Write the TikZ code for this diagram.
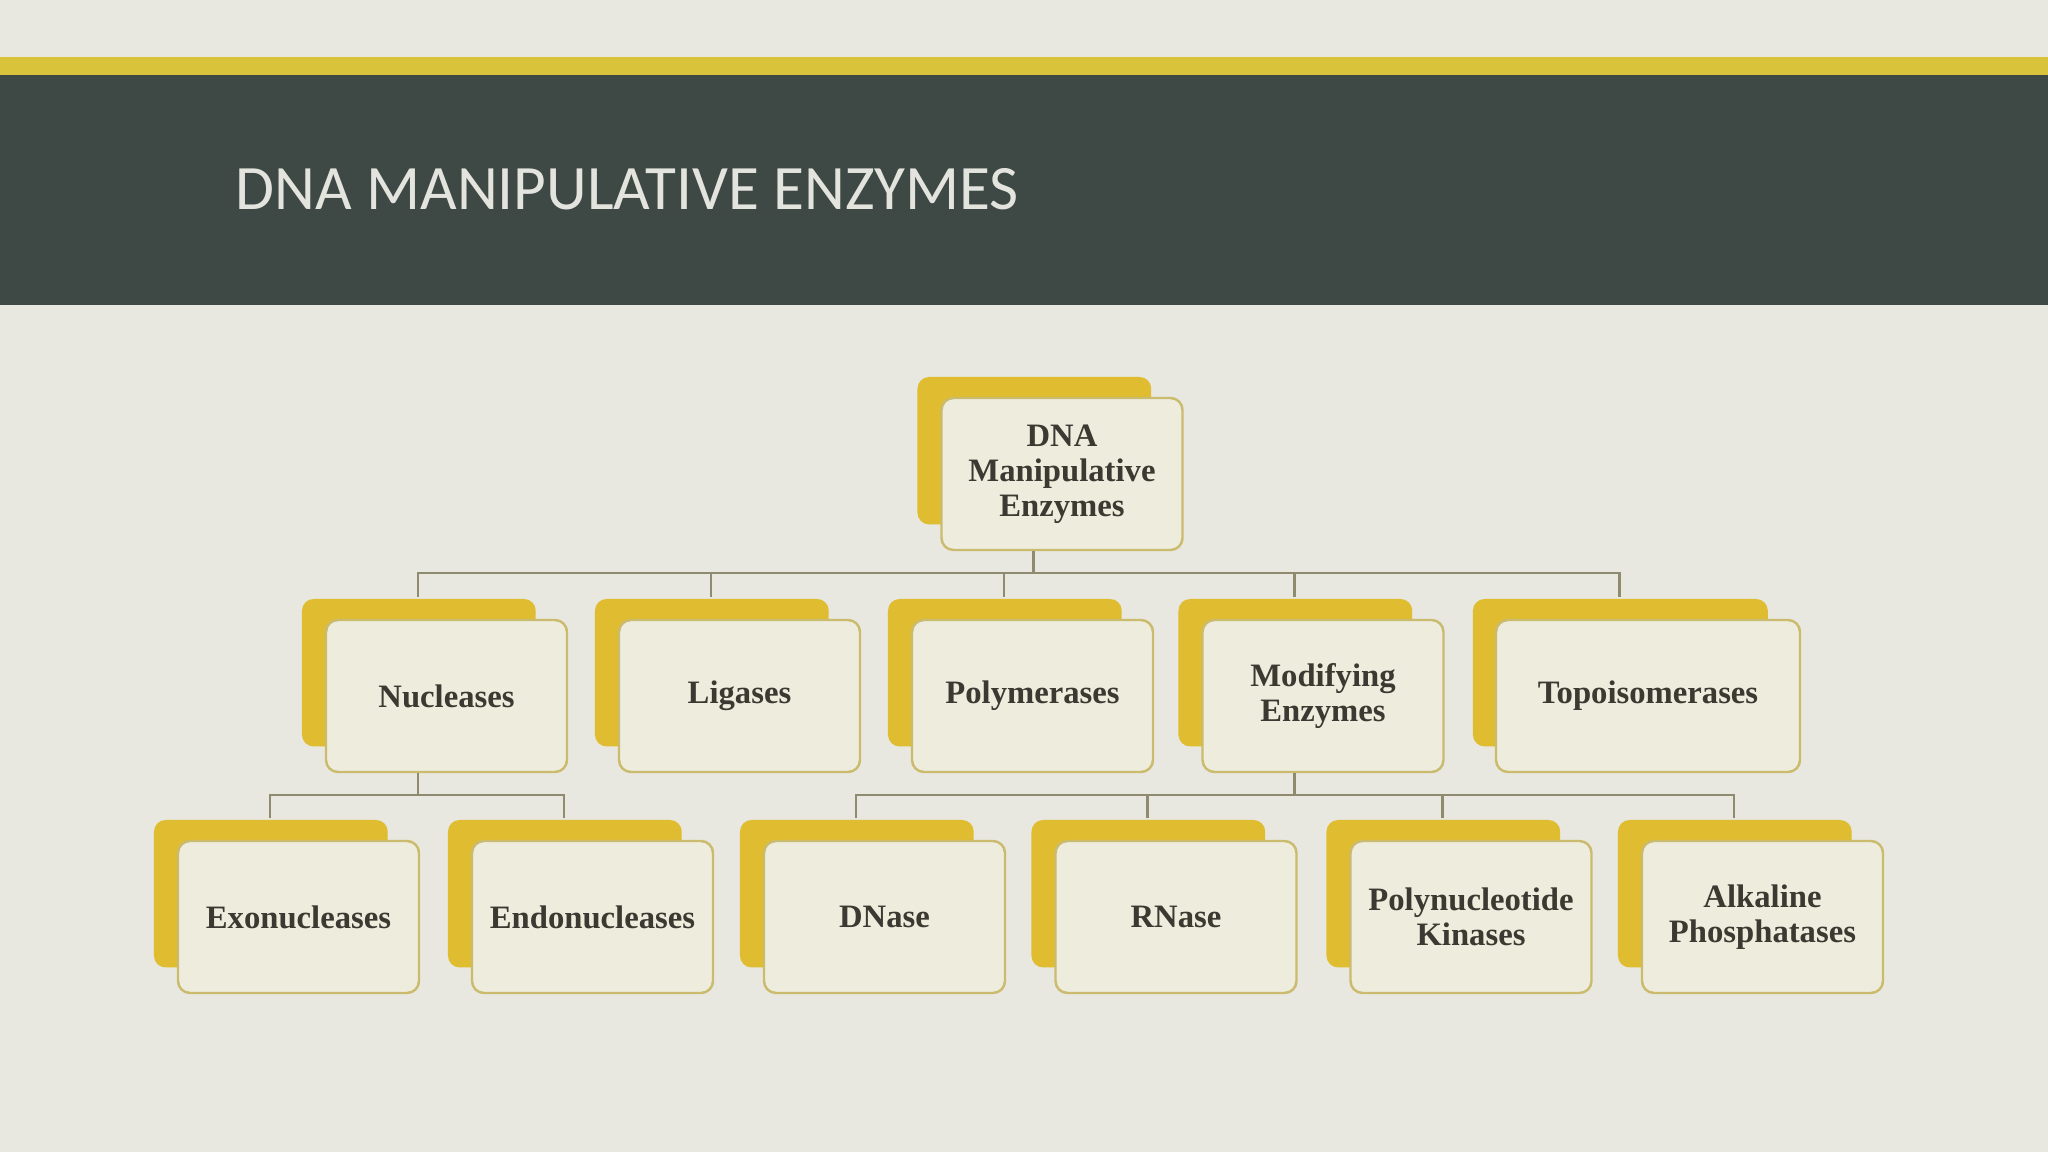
\documentclass[tikz,border=0pt]{standalone}
\usepackage{fontspec}
\newfontfamily\titlefont{Carlito}
\newfontfamily\cardfont{Liberation Serif}
\usetikzlibrary{shadows}
\definecolor{pagebg}{HTML}{E8E8E0}
\definecolor{bandgray}{HTML}{3E4946}
\definecolor{stripe}{HTML}{D8C33A}
\definecolor{titlegray}{HTML}{E4E4DE}
\definecolor{cardgold}{HTML}{DFBC30}
\definecolor{cardfill}{HTML}{EEEDDD}
\definecolor{cardline}{HTML}{CBBB6E}
\definecolor{linkline}{HTML}{8E8B6E}
\definecolor{cardtext}{HTML}{3A3A32}
\begin{document}
\begin{tikzpicture}[
    card/.style={draw=cardline, line width=0.7pt, fill=cardfill, rounded corners=1.2mm,
      minimum width=2.41cm, minimum height=1.52cm, align=center, text=cardtext,
      font=\cardfont\bfseries\fontsize{9.3}{10}\selectfont,
      general shadow={fill=cardgold, shadow xshift=-2.85mm, shadow yshift=2.4mm, shadow scale=0.97}},
    link/.style={draw=linkline, line width=0.7pt}
  ]
  % \draw[help lines] (0, 0) grid (20, -11);
  \fill [pagebg] (0, 0) rectangle (20.48, -11.52);
  \fill [stripe] (0, -0.57) rectangle (20.48, -0.76);
  \fill [bandgray] (0, -0.75) rectangle (20.48, -3.05);
  \node [anchor=base west, inner sep=0, text=titlegray, font=\titlefont\fontsize{18}{20}\selectfont] (title) at (2.35, -2.10) {DNA MANIPULATIVE ENZYMES};
  % top box
  \node [card] (root) at (10.62, -4.74) {DNA\\Manipulative\\Enzymes};
  % middle row
  \node [card] (nuc) at (4.465, -6.96) {Nucleases};
  \node [card] (lig) at (7.395, -6.96) {Ligases};
  \node [card] (pol) at (10.325, -6.96) {Polymerases};
  \node [card] (mod) at (13.23, -6.96) {Modifying\\Enzymes};
  \node [card, minimum width=3.04cm] (topo) at (16.48, -6.96) {Topoisomerases};
  % bottom row
  \node [card] (exo) at (2.985, -9.17) {Exonucleases};
  \node [card] (endo) at (5.925, -9.17) {Endonucleases};
  \node [card] (dnase) at (8.845, -9.17) {DNase};
  \node [card] (rnase) at (11.76, -9.17) {RNase};
  \node [card] (pnk) at (14.71, -9.17) {Polynucleotide\\Kinases};
  \node [card] (alk) at (17.625, -9.17) {Alkaline\\Phosphatases};
  % connectors
  \draw [link] ([xshift=-2.85mm]root.south) -- ++(0, -0.22) -| ([shift={(-2.85mm, 2.2mm)}]nuc.north);
  \draw [link] ([xshift=-2.85mm]root.south) -- ++(0, -0.22) -| ([shift={(-2.85mm, 2.2mm)}]lig.north);
  \draw [link] ([xshift=-2.85mm]root.south) -- ++(0, -0.22) -| ([shift={(-2.85mm, 2.2mm)}]pol.north);
  \draw [link] ([xshift=-2.85mm]root.south) -- ++(0, -0.22) -| ([shift={(-2.85mm, 2.2mm)}]mod.north);
  \draw [link] ([xshift=-2.85mm]root.south) -- ++(0, -0.22) -| ([shift={(-2.85mm, 2.2mm)}]topo.north);
  \draw [link] ([xshift=-2.85mm]nuc.south) -- ++(0, -0.22) -| ([shift={(-2.85mm, 2.2mm)}]exo.north);
  \draw [link] ([xshift=-2.85mm]nuc.south) -- ++(0, -0.22) -| ([shift={(-2.85mm, 2.2mm)}]endo.north);
  \draw [link] ([xshift=-2.85mm]mod.south) -- ++(0, -0.22) -| ([shift={(-2.85mm, 2.2mm)}]dnase.north);
  \draw [link] ([xshift=-2.85mm]mod.south) -- ++(0, -0.22) -| ([shift={(-2.85mm, 2.2mm)}]rnase.north);
  \draw [link] ([xshift=-2.85mm]mod.south) -- ++(0, -0.22) -| ([shift={(-2.85mm, 2.2mm)}]pnk.north);
  \draw [link] ([xshift=-2.85mm]mod.south) -- ++(0, -0.22) -| ([shift={(-2.85mm, 2.2mm)}]alk.north);
\end{tikzpicture}
\end{document}
